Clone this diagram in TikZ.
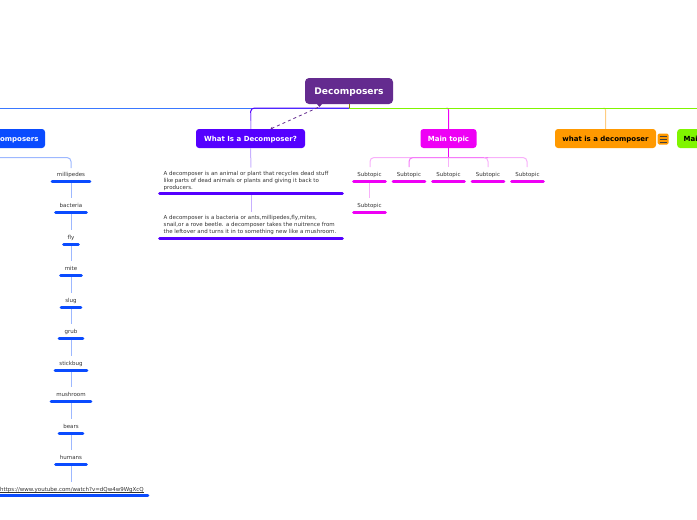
\documentclass[tikz,border=0pt]{standalone}
\usepackage{fontspec}
\setmainfont{DejaVu Sans}
\usetikzlibrary{arrows.meta}
\definecolor{cRoot}{HTML}{642B8F}
\definecolor{cBlue}{HTML}{0A4BFF}
\definecolor{cTrunk}{HTML}{3A78FF}
\definecolor{cBlueL}{HTML}{9DB8FF}
\definecolor{cPur}{HTML}{5500FF}
\definecolor{cPurL}{HTML}{C7B0FF}
\definecolor{cMag}{HTML}{EE00F5}
\definecolor{cMagL}{HTML}{F8B0FA}
\definecolor{cOr}{HTML}{FF9900}
\definecolor{cOrL}{HTML}{FFCC80}
\definecolor{cGr}{HTML}{80F500}
\definecolor{cTxt}{HTML}{333333}
\tikzset{
 x=1pt,y=-1pt,
 rootbox/.style={fill=cRoot,text=white,rounded corners=4pt,font=\fontsize{9.1}{11}\selectfont\bfseries,minimum width=88pt,minimum height=26pt,inner sep=0pt,text height=7.5pt,text depth=0.6pt},
 mainbox/.style={fill=#1,rounded corners=3pt,font=\fontsize{7.0}{8}\selectfont\bfseries,minimum height=19pt,inner sep=0pt,text height=5.6pt,text depth=0.4pt},
 leaf/.style={font=\fontsize{5.5}{6.6}\selectfont,text=cTxt,inner sep=0pt,text height=4pt,text depth=1.5pt,yshift=-1pt},
 para/.style={font=\fontsize{5.5}{6.6}\selectfont,text=cTxt,inner sep=0pt,align=left,anchor=south west},
 bar/.style={line width=2.6pt,line cap=round,draw=#1},
 link/.style={line width=1pt,rounded corners=4pt,draw=#1},
 stem/.style={line width=1pt,draw=#1},
}
\begin{document}
\begin{tikzpicture}
\useasboundingbox (0,0) rectangle (697,520);
\clip (0,0) rectangle (697,520);
% coordinates
\coordinate (hub) at (349,108);
\coordinate (wL) at (-5,108);
\coordinate (eR) at (702,108);
\coordinate (bT) at (71,168);
% main boxes
\node[rootbox] (root) at (349,91) {Decomposers};
\node[mainbox=cBlue,text=white,minimum width=66pt] (types) at (12,138.5) {Decomposers};
\node[mainbox=cPur,text=white,minimum width=109pt] (what) at (250.5,138.5) {What Is a Decomposer?};
\node[mainbox=cMag,text=white,minimum width=56pt] (topic) at (448.5,138.5) {Main topic};
\node[mainbox=cOr,text=black,minimum width=101pt] (isa) at (605.5,138.5) {what is a decomposer};
\node[mainbox=cGr,text=black,minimum width=54pt,anchor=west] (mt2) at (677,138.5) {Main topic};
% note icon
\node[fill=cOr,rounded corners=1.5pt,minimum width=11pt,minimum height=11pt,inner sep=0pt] (note) at (663,139) {};
\draw[line width=.6pt,black!75] (659.5,136) -- (666.5,136) (659.5,139) -- (666.5,139) (659.5,142) -- (666.5,142);
% trunk lines
\draw[line width=1pt,draw=cTrunk] (hub) -- (wL);
\draw[link=cPur] (hub) -| (what.north);
\draw[stem=cPurL] (251,113) -- (what.north);
\draw[line width=1pt,draw=cMag,rounded corners=2pt] ([xshift=-2pt]topic.north |- hub) -| (topic.north);
\draw[line width=1pt,draw=cOrL,rounded corners=2pt] ([xshift=-2pt]isa.north |- hub) -| (isa.north);
\draw[line width=1pt,draw=cGr] (hub) -- (eR);
\draw[line width=1pt,draw=olive] (root.south -| hub) -- (hub);
% dashed relation
\coordinate (relS) at (318,107.5);
\coordinate (relE) at (270.5,129);
\draw[line width=.8pt,cRoot,dash pattern=on 3pt off 3pt,-{Stealth[length=2.5pt,width=3pt]}] (relS) -- (relE);
\fill[cRoot] (317,104) -- (322,104) -- (319.5,107) -- cycle;
% what leaves
\node[para] (p1) at (163.5,190.5) {A decomposer is an animal or plant that recycles dead stuff\\like parts of dead animals or plants and giving it back to\\producers.};
\node[para] (p2) at (163.5,234.5) {A decomposer is a bacteria or ants,millipedes,fly,mites,\\snail,or a rove beetle. a decomposer takes the nuitrence from\\the leftover and turns it in to something new like a mushroom.};
\draw[stem=cPurL] (what.south) -- (251,167.5);
\draw[stem=cPurL] (251,195) -- (251,212);
\draw[bar=cPur] (159.5,193.5) -- (342.5,193.5);
\draw[bar=cPur] (159.5,238.3) -- (342.5,238.3);
% blue tree
\draw[line width=1pt,cBlueL,rounded corners=4pt] (0,157.5) -- (71,157.5) -- (bT);
\foreach \nm/\tx/\y/\hw in {a/millipedes/174/19,b/bacteria/205/15.5,c/fly/237/7.5,d/mite/268/10.5,e/slug/300/10,f/grub/331/12,g/stickbug/363/16,h/mushroom/394/20,i/bears/426/12,j/humans/457/15.5}{
  \node[leaf] (n\nm) at (71,\y) {\tx};
  \draw[bar=cBlue] ([xshift=-\hw pt,yshift=-3.25pt]n\nm.south) -- ([xshift=\hw pt,yshift=-3.25pt]n\nm.south);
}
\foreach \p/\q in {a/b,b/c,c/d,d/e,e/f,f/g,g/h,h/i,i/j}{
  \draw[stem=cBlueL] ([yshift=-5.2pt]n\p.south) -- ([yshift=5.2pt]n\q.north);
}
\node[leaf,anchor=east] (url) at (144,489) {https://www.youtube.com/watch?v=dQw4w9WgXcQ};
\draw[stem=cBlueL] ([yshift=-5.2pt]nj.south) -- ([yshift=5.2pt]nj.north |- url.north);
\draw[line width=.5pt,cTxt] ([yshift=1pt]url.south west) -- ([yshift=1pt]url.south east);
\draw[bar=cBlue] (-5,495.5) -- (148,495.5);
% magenta tree
\draw[stem=cMag] (topic.south) -- (448.5,158);
\draw[stem=cMagL] (448.5,158) -- (448.5,167);
\draw[line width=1pt,cMagL,rounded corners=4pt] (370,167) -- (370,157.5) -- (527,157.5) -- (527,167);
\draw[line width=1pt,cMagL!70!cMag,rounded corners=4pt] (409,167) -- (409,157.5) -- (488,157.5);
\draw[line width=1pt,cMagL,rounded corners=4pt] (484,157.5) -- (488,157.5) -- (488,167);
\foreach \nm/\x/\y in {a/369.5/174,b/409/174,c/448.5/174,d/488/174,e/527.5/174,f/369.5/205}{
  \node[leaf] (s\nm) at (\x,\y) {Subtopic};
  \draw[bar=cMag] ([xshift=-16pt,yshift=-3.25pt]s\nm.south) -- ([xshift=16pt,yshift=-3.25pt]s\nm.south);
}
\draw[stem=cMagL] ([yshift=-5.2pt]sa.south) -- ([yshift=5.2pt]sf.north);
\end{tikzpicture}
\end{document}
